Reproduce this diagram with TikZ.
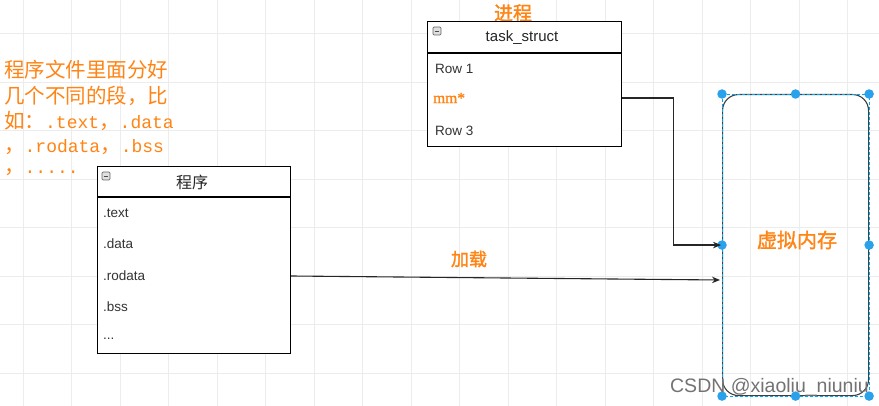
\documentclass[tikz,border=0pt]{standalone}
\usepackage{fontspec}
\usetikzlibrary{arrows.meta}
\setmainfont{Liberation Sans}
\newfontfamily\cjk{Noto Sans CJK SC}
\newfontfamily\cjkb{Noto Sans CJK SC}[FakeBold=1.6]
\newfontfamily\monof{Liberation Mono}
\newfontfamily\serifb{Liberation Serif}[FakeBold=1.2]
\definecolor{orng}{RGB}{255,132,20}
\definecolor{gridc}{RGB}{236,236,236}
\definecolor{rowtxt}{RGB}{51,51,51}
\definecolor{handle}{RGB}{41,161,235}
\definecolor{selc}{RGB}{0,168,240}
\newcommand{\mt}[1]{{\monof\fontsize{18}{20}\selectfont #1}}
\tikzset{
  gridline/.style={draw=gridc, line width=0.8pt},
  tbox/.style={draw=black, line width=1.1pt, fill=white, anchor=north west, inner sep=0pt},
  rowlabel/.style={anchor=west, inner sep=0pt, text=rowtxt, font=\fontsize{13.5}{15}\selectfont},
  headlabel/.style={inner sep=0pt, text=black!85, font=\fontsize{15}{17}\selectfont},
  lefttext/.style={anchor=west, inner sep=0pt, text=orng, font=\cjk\fontsize{20.5}{22}\selectfont},
  orlabel/.style={inner sep=0pt, text=orng, font=\cjkb\fontsize{18}{20}\selectfont},
  conn/.style={draw=black!85, line width=1.1pt, -{Stealth[length=8pt,width=6.5pt]}},
  minusicon/.style={draw=black!60, fill=black!12, rounded corners=1.2pt, minimum size=8pt, inner sep=0pt, line width=0.7pt},
  hdl/.style={circle, fill=handle, minimum size=9.5pt, inner sep=0pt},
}
\begin{document}
\begin{tikzpicture}[x=1pt,y=-1pt]
\useasboundingbox (0,0) rectangle (879,406);
\fill[white] (0,0) rectangle (879,406);
% background grid
\foreach \gx in {23,71.5,...,879} \draw[gridline] (\gx,0) -- (\gx,406);
\foreach \gy in {33.5,82,...,406} \draw[gridline] (0,\gy) -- (879,\gy);

% left description text
\node[lefttext] (t1) at (4,70) {程序文件里面分好};
\node[lefttext] (t2) at (4,96) {几个不同的段，比};
\node[lefttext] (t3) at (4,121) {如：\mt{.text}，\mt{.data}};
\node[lefttext] (t4) at (4,147) {，\mt{.rodata}，\mt{.bss}};
\node[lefttext] (t5) at (4,172) {，\mt{.....}};

% program box
\node[tbox, minimum width=193pt, minimum height=187pt] (prog) at (97,166) {};
\draw[line width=1.1pt] ([yshift=-31pt]prog.north west) -- ([yshift=-31pt]prog.north east);
\node[minusicon] (pm) at (106,176) {};
\draw[line width=0.9pt, black!70] ([xshift=-2.3pt]pm.center) -- ([xshift=2.3pt]pm.center);
\node[headlabel, font=\cjk\fontsize{16}{18}\selectfont] (progt) at (192,182) {程序};
\node[rowlabel] (ptext) at (103,213) {.text};
\node[rowlabel] (pdata) at (103,244) {.data};
\node[rowlabel] (prodata) at (103,276) {.rodata};
\node[rowlabel] (pbss) at (103,307) {.bss};
\node[rowlabel] (pdots) at (103,339) {...};

% task_struct box
\node[orlabel, font=\cjkb\fontsize{19}{21}\selectfont] (jc) at (513,13) {进程};
\node[tbox, minimum width=194pt, minimum height=125pt] (ts) at (427,21) {};
\draw[line width=1.1pt] ([yshift=-32pt]ts.north west) -- ([yshift=-32pt]ts.north east);
\node[minusicon] (tm) at (437,31) {};
\draw[line width=0.9pt, black!70] ([xshift=-2.3pt]tm.center) -- ([xshift=2.3pt]tm.center);
\node[headlabel] (tst) at (522,38) {task\_struct};
\node[rowlabel] (r1) at (435,69) {Row 1};
\node[anchor=west, inner sep=0pt, text=orng, font=\serifb\fontsize{15.5}{17}\selectfont] (mm) at (433,98) {mm*};
\node[rowlabel] (r3) at (435,131) {Row 3};

% virtual memory box
\node[draw=black!75, line width=1.1pt, rounded corners=16pt, minimum width=146pt, minimum height=301pt, anchor=north west, inner sep=0pt] (vm) at (722,94) {};
\draw[selc, dashed, line width=0.7pt, dash pattern=on 3pt off 2pt] (vm.north west) rectangle (vm.south east);
\node[orlabel, font=\cjkb\fontsize{20}{22}\selectfont] (vmt) at (797,240) {虚拟内存};
\foreach \a in {north west,north,north east,west,east,south west,south,south east}
  \node[hdl] at (vm.\a) {};

% connectors
\draw[conn] (ts.east |- mm) -- ++(51,0) |- ([xshift=-1pt]vm.west);
\coordinate (loadend) at (720,280);
\draw[conn] (prog.east |- prodata) -- (loadend);
\node[orlabel] (jz) at (469,259) {加载};

% watermark
\node[anchor=east, inner sep=0pt, text=black!55, font=\fontsize{19.5}{21}\selectfont] (wm) at (869,387) {CSDN @xiaoliu\_niuniu};
\end{tikzpicture}
\end{document}
